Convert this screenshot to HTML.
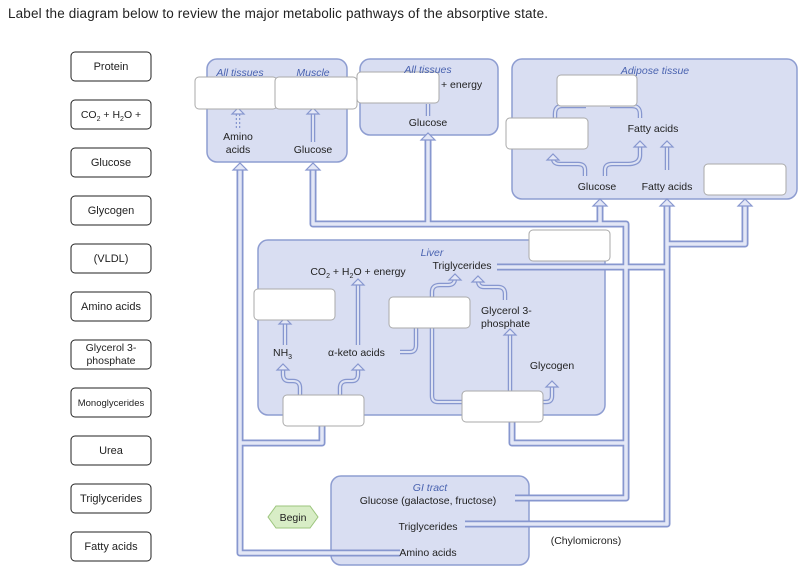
<!DOCTYPE html>
<html><head><meta charset="utf-8"><style>
body{margin:0;background:#fff;width:811px;height:583px;overflow:hidden}
svg{display:block}
text{font-family:"Liberation Sans",Arial,sans-serif;font-size:11px;fill:#222}
.t{stroke:#8797cf;stroke-width:7;fill:none;stroke-linejoin:round}
.ti{stroke:#e3e7f6;stroke-width:3.5;fill:none;stroke-linejoin:round}
.s{stroke:#8797cf;stroke-width:4.5;fill:none}
.box{fill:#d9def2;stroke:#8e9dd1;stroke-width:1.5}
.w{fill:#fff;stroke:#aaa;stroke-width:1}
.lb{fill:#fff;stroke:#222;stroke-width:1}
.it{font-style:italic;fill:#4a63b0}
.ah{fill:#e3e7f6;stroke:#8797cf;stroke-width:1.2}
</style></head><body>
<svg width="811" height="583" viewBox="0 0 811 583">
<text x="8" y="18" style="font-size:13.5px" textLength="540">Label the diagram below to review the major metabolic pathways of the absorptive state.</text>

<g>
<rect class="lb" x="71" y="52" width="80" height="29" rx="4"/><text x="111" y="70" text-anchor="middle">Protein</text>
<rect class="lb" x="71" y="100" width="80" height="29" rx="4"/><text x="111" y="118" text-anchor="middle" style="font-size:10.5px">CO<tspan style="font-size:7px" dy="3">2</tspan><tspan dy="-3"> + H</tspan><tspan style="font-size:7px" dy="3">2</tspan><tspan dy="-3">O +</tspan></text>
<rect class="lb" x="71" y="148" width="80" height="29" rx="4"/><text x="111" y="166" text-anchor="middle">Glucose</text>
<rect class="lb" x="71" y="196" width="80" height="29" rx="4"/><text x="111" y="214" text-anchor="middle">Glycogen</text>
<rect class="lb" x="71" y="244" width="80" height="29" rx="4"/><text x="111" y="262" text-anchor="middle">(VLDL)</text>
<rect class="lb" x="71" y="292" width="80" height="29" rx="4"/><text x="111" y="310" text-anchor="middle">Amino acids</text>
<rect class="lb" x="71" y="340" width="80" height="29" rx="4"/><text x="111" y="351" text-anchor="middle" style="font-size:10.5px">Glycerol 3-</text><text x="111" y="364" text-anchor="middle" style="font-size:10.5px">phosphate</text>
<rect class="lb" x="71" y="388" width="80" height="29" rx="4"/><text x="111" y="406" text-anchor="middle" style="font-size:9.5px">Monoglycerides</text>
<rect class="lb" x="71" y="436" width="80" height="29" rx="4"/><text x="111" y="454" text-anchor="middle">Urea</text>
<rect class="lb" x="71" y="484" width="80" height="29" rx="4"/><text x="111" y="502" text-anchor="middle">Triglycerides</text>
<rect class="lb" x="71" y="532" width="80" height="29" rx="4"/><text x="111" y="550" text-anchor="middle">Fatty acids</text>
</g>

<rect class="box" x="207" y="59" width="140" height="103" rx="10"/>
<rect class="box" x="360" y="59" width="138" height="76" rx="10"/>
<rect class="box" x="512" y="59" width="285" height="140" rx="10"/>
<rect class="box" x="258" y="240" width="347" height="175" rx="10"/>
<rect class="box" x="331" y="476" width="198" height="89" rx="10"/>

<g>
<path class="t" d="M240 168 V553 H400"/>
<path class="t" d="M322 426 V443 H240"/>
<path class="t" d="M313 168 V224 H626 V498 H515"/>
<path class="t" d="M428 138 V224"/>
<path class="t" d="M600 204 V224"/>
<path class="t" d="M512 422 V443 H626"/>
<path class="t" d="M465 524 H667 V204"/>
<path class="t" d="M667 244 H745 V204"/>
<path class="t" d="M497 267 H667"/>
<path class="ti" d="M240 168 V553 H400"/>
<path class="ti" d="M322 426 V443 H240"/>
<path class="ti" d="M313 168 V224 H626 V498 H515"/>
<path class="ti" d="M428 138 V224"/>
<path class="ti" d="M600 204 V224"/>
<path class="ti" d="M512 422 V443 H626"/>
<path class="ti" d="M465 524 H667 V204"/>
<path class="ti" d="M667 244 H745 V204"/>
<path class="ti" d="M497 267 H667"/>
</g>
<g class="ah">
<polygon points="233,170 240,163 247,170"/>
<polygon points="306,170 313,163 320,170"/>
<polygon points="421,140 428,133 435,140"/>
<polygon points="593,206 600,199 607,206"/>
<polygon points="660,206 667,199 674,206"/>
<polygon points="738,206 745,199 752,206"/>
</g>

<g>
<path class="s" d="M238 128 V112" style="stroke-dasharray:2 2"/>
<path class="s" d="M313 142 V112"/>
<path class="s" d="M428 116 V104"/>
<path class="s" d="M285 345 V322"/>
<path class="s" d="M358 345 V283"/>
<path class="s" d="M400 352 H410 Q416 352 416 345 V326"/>
<path class="s" d="M300 395 V388 Q300 381 293 381 H289 Q283 381 283 374 V368"/>
<path class="s" d="M340 395 V388 Q340 381 347 381 H352 Q358 381 358 374 V368"/>
<path class="s" d="M462 402 H438 Q432 402 432 396 V292 Q432 285 440 285 H448 Q455 285 455 278"/>
<path class="s" d="M510 391 V333"/>
<path class="s" d="M543 402 H546 Q552 402 552 396 V385"/>
<path class="s" d="M505 300 V294 Q505 287 498 287 H484 Q478 287 478 280"/>
<path class="s" d="M585 176 V170 Q585 164 578 164 H560 Q553 164 553 158"/>
<path class="s" d="M605 176 V170 Q605 164 612 164 H628 Q640 164 640 155 V145"/>
<path class="s" d="M667 170 V145"/>
<path class="s" d="M610 106 H632 Q640 106 640 114 V118"/>
<path class="s" d="M586 106 H562 Q555 106 555 114 V118"/>
<g style="stroke:#dde2f3;stroke-width:2;fill:none">
<path d="M238 128 V112"/><path d="M313 142 V112"/><path d="M428 116 V104"/>
<path d="M285 345 V322"/><path d="M358 345 V283"/>
<path d="M400 352 H410 Q416 352 416 345 V326"/>
<path d="M300 395 V388 Q300 381 293 381 H289 Q283 381 283 374 V368"/>
<path d="M340 395 V388 Q340 381 347 381 H352 Q358 381 358 374 V368"/>
<path d="M462 402 H438 Q432 402 432 396 V292 Q432 285 440 285 H448 Q455 285 455 278"/>
<path d="M510 391 V333"/>
<path d="M543 402 H546 Q552 402 552 396 V385"/>
<path d="M505 300 V294 Q505 287 498 287 H484 Q478 287 478 280"/>
<path d="M585 176 V170 Q585 164 578 164 H560 Q553 164 553 158"/>
<path d="M605 176 V170 Q605 164 612 164 H628 Q640 164 640 155 V145"/>
<path d="M667 170 V145"/>
<path d="M610 106 H632 Q640 106 640 114 V118"/>
<path d="M586 106 H562 Q555 106 555 114 V118"/>
</g>
</g>
<g class="ah">
<polygon points="232,114 238,108 244,114"/>
<polygon points="307,114 313,108 319,114"/>
<polygon points="279,324 285,318 291,324"/>
<polygon points="352,285 358,279 364,285"/>
<polygon points="277,370 283,364 289,370"/>
<polygon points="352,370 358,364 364,370"/>
<polygon points="449,280 455,274 461,280"/>
<polygon points="472,282 478,276 484,282"/>
<polygon points="504,335 510,329 516,335"/>
<polygon points="546,387 552,381 558,387"/>
<polygon points="547,160 553,154 559,160"/>
<polygon points="634,147 640,141 646,147"/>
<polygon points="661,147 667,141 673,147"/>
</g>

<g>
<rect class="w" x="195" y="77" width="82" height="32" rx="4"/>
<rect class="w" x="275" y="77" width="82" height="32" rx="4"/>
<rect class="w" x="357" y="72" width="82" height="31" rx="4"/>
<rect class="w" x="557" y="75" width="80" height="31" rx="4"/>
<rect class="w" x="506" y="118" width="82" height="31" rx="4"/>
<rect class="w" x="704" y="164" width="82" height="31" rx="4"/>
<rect class="w" x="529" y="230" width="81" height="31" rx="4"/>
<rect class="w" x="254" y="289" width="81" height="31" rx="4"/>
<rect class="w" x="389" y="297" width="81" height="31" rx="4"/>
<rect class="w" x="283" y="395" width="81" height="31" rx="4"/>
<rect class="w" x="462" y="391" width="81" height="31" rx="4"/>
</g>

<text class="it" x="240" y="76" text-anchor="middle" style="font-size:10.5px">All tissues</text>
<text class="it" x="313" y="76" text-anchor="middle" style="font-size:10.5px">Muscle</text>
<text class="it" x="428" y="73" text-anchor="middle" style="font-size:10.5px">All tissues</text>
<text x="441" y="88" style="font-size:10.5px">+ energy</text>
<text x="428" y="126" text-anchor="middle" style="font-size:10.5px">Glucose</text>
<text x="238" y="140" text-anchor="middle" style="font-size:10.5px">Amino</text>
<text x="238" y="153" text-anchor="middle" style="font-size:10.5px">acids</text>
<text x="313" y="153" text-anchor="middle" style="font-size:10.5px">Glucose</text>
<text class="it" x="655" y="74" text-anchor="middle" style="font-size:10.5px">Adipose tissue</text>
<text x="653" y="132" text-anchor="middle" style="font-size:10.5px">Fatty acids</text>
<text x="597" y="190" text-anchor="middle" style="font-size:10.5px">Glucose</text>
<text x="667" y="190" text-anchor="middle" style="font-size:10.5px">Fatty acids</text>
<text class="it" x="432" y="256" text-anchor="middle" style="font-size:10.5px">Liver</text>
<text x="462" y="269" text-anchor="middle" style="font-size:10.5px">Triglycerides</text>
<text x="358" y="275" text-anchor="middle" style="font-size:10.5px">CO<tspan style="font-size:7px" dy="3">2</tspan><tspan dy="-3"> + H</tspan><tspan style="font-size:7px" dy="3">2</tspan><tspan dy="-3">O + energy</tspan></text>
<text x="481" y="314" style="font-size:10.5px">Glycerol 3-</text>
<text x="481" y="327" style="font-size:10.5px">phosphate</text>
<text x="273" y="356" style="font-size:10.5px">NH<tspan style="font-size:7px" dy="3">3</tspan></text>
<text x="328" y="356" style="font-size:10.5px">α-keto acids</text>
<text x="552" y="369" text-anchor="middle" style="font-size:10.5px">Glycogen</text>
<text class="it" x="430" y="491" text-anchor="middle" style="font-size:10.5px">GI tract</text>
<text x="428" y="504" text-anchor="middle" style="font-size:10.5px">Glucose (galactose, fructose)</text>
<text x="428" y="530" text-anchor="middle" style="font-size:10.5px">Triglycerides</text>
<text x="428" y="556" text-anchor="middle" style="font-size:10.5px">Amino acids</text>
<text x="586" y="544" text-anchor="middle" style="font-size:10.5px">(Chylomicrons)</text>
<polygon points="268,517 276,506 310,506 318,517 310,528 276,528" fill="#d8edc6" stroke="#9cc57d" stroke-width="1"/>
<text x="293" y="521" text-anchor="middle" style="font-size:10.5px">Begin</text>
</svg>
</body></html>
